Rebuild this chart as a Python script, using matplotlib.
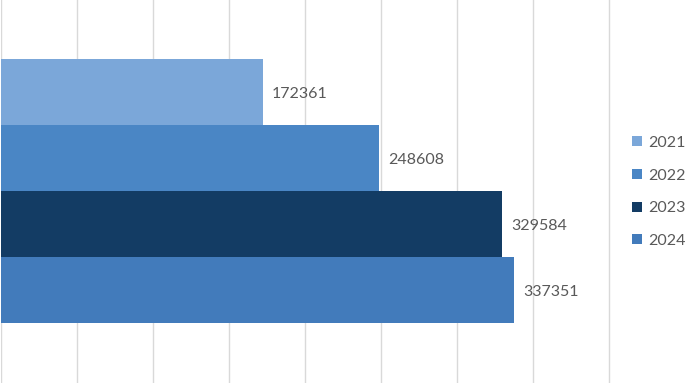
import matplotlib.pyplot as plt
from matplotlib.patches import Patch

anios = ['2021', '2022', '2023', '2024']
valores = [172361, 248608, 329584, 337351]
colores = ['#7BA7D9', '#4A86C5', '#133C64', '#427BBB']

plt.rcParams['font.family'] = ['Lato', 'DejaVu Sans']

fig = plt.figure(figsize=(6.85, 3.83), dpi=100)
ax = fig.add_axes([1 / 685, 0, 611 / 685, 1])

posiciones = list(range(len(anios)))
ax.barh(posiciones, valores, height=1.0, color=colores, zorder=2)

for y, v in zip(posiciones, valores):
    ax.text(v + 6000, y + 0.03, str(v), va='center', ha='left', fontsize=11.5, color='#595959')

ax.set_xlim(0, 402000)
ax.set_ylim(3.5 + 0.91, -0.5 - 0.894)
ax.set_xticks(range(0, 400001, 50000))
ax.grid(axis='x', color='#D9D9D9', linewidth=1, zorder=0)
ax.tick_params(left=False, bottom=False, labelleft=False, labelbottom=False)
for s in ax.spines.values():
    s.set_visible(False)

handles = [Patch(facecolor=c, edgecolor='none', label=a) for a, c in zip(anios, colores)]
fig.legend(handles=handles, loc='center left', bbox_to_anchor=(632 / 685, 191 / 383),
           frameon=False, fontsize=11.5, labelcolor='#595959', borderpad=0, borderaxespad=0,
           handlelength=0.6, handleheight=0.6, handletextpad=0.4, labelspacing=1.17)

fig.savefig('out.png', dpi=100)
